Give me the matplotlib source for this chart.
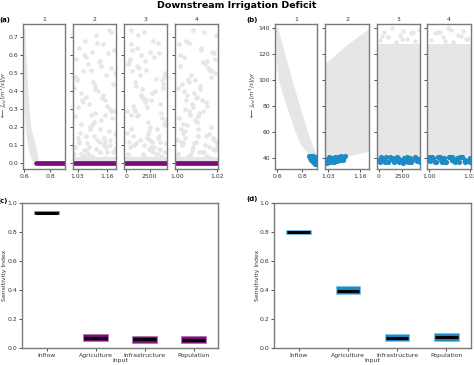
import matplotlib
matplotlib.use("Agg")
import matplotlib.pyplot as plt

# ===== style =====
W, H = 474, 365
GRAY = "#e6e6e6"
PURPLE = "#7d0b7d"
BLUE = "#1f8bc4"
SPINE = "#7a7a7a"
TXT = "#333333"
FS = 4.4

# ===== DATA =====
INPUTS = ["Inflow", "Agriculture", "Infrastructure", "Population"]

# (a) panel 1: envelope of the gray band (y -> x range)
A1_ENV_Y = [0.75, 0.60, 0.40, 0.30, 0.20, 0.10, 0.05, 0.00]
A1_ENV_LO = [0.596, 0.597, 0.598, 0.601, 0.607, 0.625, 0.640, 0.665]
A1_ENV_HI = [0.606, 0.612, 0.628, 0.637, 0.650, 0.685, 0.700, 0.712]
A1_OPT_X = [0.690, 0.740, 0.790, 0.840, 0.890, 0.930]

# (a) panels 2-4: sampled deficit values (shared y) against each input
A_Y = [0.42, 0.58, 0.31, 0.64, 0.22, 0.51, 0.68, 0.37, 0.55, 0.19,
       0.62, 0.45, 0.28, 0.71, 0.40, 0.57, 0.24, 0.66, 0.35, 0.49,
       0.61, 0.30, 0.73, 0.44, 0.16, 0.26, 0.47, 0.12, 0.39, 0.60,
       0.15, 0.33, 0.52, 0.21, 0.43, 0.13, 0.56, 0.36, 0.14, 0.27,
       0.18, 0.53, 0.25, 0.63, 0.09, 0.17, 0.34, 0.11, 0.27, 0.08,
       0.19, 0.12, 0.10, 0.29, 0.07, 0.23, 0.38, 0.48, 0.06, 0.74,
       0.05, 0.11, 0.04, 0.09, 0.15, 0.06, 0.03, 0.13, 0.08, 0.05,
       0.50, 0.41, 0.59, 0.32, 0.46, 0.54, 0.20, 0.67, 0.29, 0.35,
       0.04, 0.07, 0.10, 0.02, 0.06, 0.14, 0.03, 0.09, 0.05, 0.12]
A2_X = [1.015, 1.022, 1.031, 1.038, 1.046, 1.052, 1.061, 1.069, 1.075, 1.083,
        1.091, 1.098, 1.104, 1.112, 1.119, 1.127, 1.133, 1.141, 1.148, 1.156,
        1.163, 1.171, 1.178, 1.186, 1.192, 1.018, 1.027, 1.035, 1.043, 1.057,
        1.065, 1.079, 1.087, 1.095, 1.108, 1.116, 1.124, 1.137, 1.145, 1.152,
        1.167, 1.175, 1.182, 1.189, 1.020, 1.040, 1.055, 1.072, 1.090, 1.110,
        1.130, 1.150, 1.170, 1.188, 1.060, 1.100, 1.140, 1.025, 1.160, 1.168,
        1.014, 1.036, 1.058, 1.081, 1.103, 1.126, 1.149, 1.171, 1.193, 1.047,
        1.194, 1.105, 1.066, 1.158, 1.029, 1.134, 1.085, 1.117, 1.176, 1.050,
        1.093, 1.068, 1.144, 1.121, 1.184, 1.033, 1.011, 1.155, 1.077, 1.128]
A3_X = [3900, 350, 2200, 1100, 4100, 600, 2900, 1700, 150, 3300,
        2500, 900, 3700, 1300, 3100, 2000, 4300, 450, 2700, 1500,
        3500, 800, 1900, 4000, 2300, 1200, 3200, 250, 2800, 1600,
        700, 3600, 2100, 4200, 1000, 2600, 300, 1800, 3400, 550,
        2400, 1400, 3800, 650, 3000, 100, 2000, 4250, 1250, 3550,
        500, 2750, 1900, 950, 3650, 2350, 1550, 4050, 2850, 550,
        200, 1050, 1900, 2700, 3500, 4300, 600, 1500, 2400, 3300,
        4150, 1650, 2950, 750, 3850, 1150, 2550, 3450, 50, 2150,
        3750, 2650, 850, 1450, 4200, 2250, 3050, 400, 1800, 3600]
A4_X = [1.0005, 1.0190, 1.0080, 1.0120, 1.0030, 1.0165, 1.0045, 1.0100, 1.0140, 1.0020,
        1.0175, 1.0060, 1.0110, 1.0195, 1.0035, 1.0150, 1.0090, 1.0010, 1.0125, 1.0070,
        1.0185, 1.0040, 1.0135, 1.0025, 1.0160, 1.0105, 1.0055, 1.0200, 1.0085, 1.0015,
        1.0145, 1.0075, 1.0170, 1.0050, 1.0115, 1.0000, 1.0130, 1.0095, 1.0180, 1.0065,
        1.0038, 1.0155, 1.0008, 1.0118, 1.0198, 1.0028, 1.0142, 1.0082, 1.0062, 1.0178,
        1.0102, 1.0018, 1.0138, 1.0058, 1.0188, 1.0098, 1.0048, 1.0168, 1.0122, 1.0078,
        1.0004, 1.0027, 1.0052, 1.0079, 1.0106, 1.0133, 1.0158, 1.0183, 1.0201, 1.0069,
        1.0192, 1.0112, 1.0032, 1.0147, 1.0087, 1.0012, 1.0172, 1.0057, 1.0127, 1.0042,
        1.0152, 1.0072, 1.0022, 1.0197, 1.0107, 1.0037, 1.0132, 1.0162, 1.0002, 1.0092]
A_DENSE = [0.0, 0.035]

# (b) panel 1: diagonal gray band (y -> x range)
B1_ENV_Y = [141, 120, 100, 80, 60, 50, 44, 40]
B1_ENV_LO = [0.590, 0.590, 0.610, 0.675, 0.745, 0.792, 0.840, 0.870]
B1_ENV_HI = [0.603, 0.662, 0.720, 0.780, 0.844, 0.880, 0.905, 0.917]
B1_OPT_X = [0.850, 0.860, 0.872, 0.884, 0.896, 0.908, 0.915, 0.866, 0.880, 0.893,
            0.905, 0.913, 0.900, 0.888]
B1_OPT_Y = [41.5, 40.0, 42.0, 41.5, 40.5, 41.0, 39.0, 38.5, 39.0, 37.5,
            38.0, 36.5, 36.0, 36.8]

# (b) panel 2: wedge envelope (x -> y range)
B2_ENV_X = [1.0165, 1.06, 1.10, 1.16, 1.1966]
B2_ENV_LO = [36.5, 39.5, 41.5, 44.0, 45.5]
B2_ENV_HI = [113.0, 120.0, 126.5, 135.0, 140.0]
B2_OPT_X = [1.020, 1.025, 1.030, 1.035, 1.040, 1.046, 1.052, 1.058, 1.064, 1.070,
            1.076, 1.082, 1.088, 1.094, 1.100, 1.023, 1.033, 1.043, 1.055, 1.067,
            1.079, 1.091]
B2_OPT_Y = [38.0, 39.5, 37.5, 40.0, 38.5, 40.5, 39.0, 41.0, 39.5, 41.0,
            40.0, 41.5, 40.5, 41.0, 41.5, 36.5, 41.0, 36.8, 37.5, 38.0,
            38.5, 39.0]

# (b) panels 3-4: dense block plus sparse tops
B_DENSE = [35.5, 128.0]
B_TOP_Y = [131, 137, 133, 140, 129.5, 135, 138, 132, 136, 130, 139, 134, 131.5, 137.5]
B3_TOP_X = [150, 600, 1000, 1400, 1800, 2200, 2600, 3000, 3400, 3800, 4200, 350, 2400, 3600]
B4_TOP_X = [1.0010, 1.0040, 1.0065, 1.0090, 1.0115, 1.0140, 1.0165, 1.0190, 1.0025, 1.0075,
            1.0105, 1.0155, 1.0180, 1.0050]
B3_OPT_X = [-120, 100, 330, 560, 790, 1020, 1250, 1480, 1710, 1940, 2170, 2400, 2630,
            2860, 3090, 3320, 3550, 3780, 4010, 4240, 220, 680, 1140, 1600, 2060,
            2520, 2980, 3440, 3900, 4300]
B3_OPT_Y = [39.0, 37.5, 40.5, 38.0, 41.0, 37.0, 39.5, 40.0, 38.0, 41.0, 37.5, 39.0,
            40.5, 38.0, 37.0, 40.0, 39.0, 41.0, 38.0, 39.5, 40.8, 37.0, 41.0, 36.8,
            40.5, 36.5, 41.0, 37.0, 40.5, 37.5]
B4_OPT_X = [0.9992, 1.0005, 1.0018, 1.0031, 1.0044, 1.0057, 1.0070, 1.0083, 1.0096, 1.0109,
            1.0122, 1.0135, 1.0148, 1.0161, 1.0174, 1.0187, 1.0200, 1.0000, 1.0025, 1.0050,
            1.0075, 1.0100, 1.0125, 1.0150, 1.0175, 1.0198, 1.0012, 1.0063, 1.0113, 1.0163]
B4_OPT_Y = [39.5, 38.0, 40.5, 37.5, 41.0, 38.5, 40.0, 37.0, 41.0, 39.0, 38.0, 40.5,
            37.5, 41.0, 39.0, 38.0, 40.5, 41.0, 36.8, 41.2, 37.0, 40.8, 36.8, 41.0,
            37.2, 36.8, 40.8, 37.0, 41.0, 40.8]

# (c)/(d) sensitivity indices: lower quartile, median, upper quartile
C_LO = [0.922, 0.046, 0.037, 0.037]
C_MED = [0.933, 0.067, 0.062, 0.057]
C_HI = [0.945, 0.099, 0.085, 0.080]
D_LO = [0.786, 0.372, 0.051, 0.051]
D_MED = [0.800, 0.395, 0.071, 0.074]
D_HI = [0.814, 0.430, 0.099, 0.106]

TOP_XTICKS = [[0.6, 0.8], [1.03, 1.16], [0, 2500], [1.00, 1.02]]
TOP_XTLAB = [["0.6", "0.8"], ["1.03", "1.16"], ["0", "2500"], ["1.00", "1.02"]]
A_XLIM = [(0.59, 0.915), (1.01, 1.198), (-254, 4384), (0.9988, 1.0205)]
B_XLIM = [(0.584, 0.917), (1.0165, 1.1966), (-174, 4340), (0.9988, 1.0205)]


def rect(l, t, r, b):
    return [l / W, 1 - b / H, (r - l) / W, (b - t) / H]


def style(ax):
    for s in ax.spines.values():
        s.set_color(SPINE)
        s.set_linewidth(1.0)
    ax.tick_params(labelsize=FS, length=2, width=0.6, pad=1.5, colors=TXT)


def ftext(x, y, s, **kw):
    fig.text(x / W, 1 - y / H, s, color=TXT, **kw)


fig = plt.figure(figsize=(W / 100, H / 100), dpi=100)

ylab = r"$\longleftarrow\ J_{dd}\ [m^3/s]/yr$"

# ----- (a) -----
a_x = [(23, 65), (73, 116), (124, 167), (175, 218)]
a_axes = []
for i, (l, r) in enumerate(a_x):
    ax = fig.add_axes(rect(l, 24, r, 169))
    a_axes.append(ax)
    style(ax)
    ax.set_xlim(*A_XLIM[i])
    ax.set_ylim(-0.033, 0.774)
    ax.set_xticks(TOP_XTICKS[i], TOP_XTLAB[i])
    ax.set_yticks([0.0, 0.1, 0.2, 0.3, 0.4, 0.5, 0.6, 0.7])
    if i > 0:
        ax.tick_params(labelleft=False)
    ax.set_title(str(i + 1), fontsize=FS, pad=2.5, color=TXT)

a_axes[0].fill_betweenx(A1_ENV_Y, A1_ENV_LO, A1_ENV_HI, color=GRAY, lw=0)
a_axes[0].plot(A1_OPT_X, [0.0] * len(A1_OPT_X), color=PURPLE, lw=3.4,
               solid_capstyle="round")
for ax, xs in zip(a_axes[1:], [A2_X, A3_X, A4_X]):
    ax.axhspan(A_DENSE[0], A_DENSE[1], color=GRAY, lw=0)
    ax.scatter(xs, A_Y, s=11, color=GRAY, lw=0)
    lo, hi = ax.get_xlim()
    ax.plot([lo, hi], [0.0, 0.0], color=PURPLE, lw=3.4, solid_capstyle="round")
    ax.set_xlim(lo, hi)

ftext(4, 95, ylab, rotation=90, ha="center", va="center", fontsize=FS - 0.3)

# ----- (b) -----
b_x = [(275, 317), (325, 369), (377, 420), (427, 471)]
b_axes = []
for i, (l, r) in enumerate(b_x):
    ax = fig.add_axes(rect(l, 24, r, 169))
    b_axes.append(ax)
    style(ax)
    ax.set_xlim(*B_XLIM[i])
    ax.set_ylim(31.8, 143.3)
    ax.set_xticks(TOP_XTICKS[i], TOP_XTLAB[i])
    ax.set_yticks([40, 60, 80, 100, 120, 140])
    if i > 0:
        ax.tick_params(labelleft=False)
    ax.set_title(str(i + 1), fontsize=FS, pad=2.5, color=TXT)

b_axes[0].fill_betweenx(B1_ENV_Y, B1_ENV_LO, B1_ENV_HI, color=GRAY, lw=0)
b_axes[0].scatter(B1_OPT_X, B1_OPT_Y, s=14, color=BLUE, lw=0, zorder=3)
b_axes[1].fill_between(B2_ENV_X, B2_ENV_LO, B2_ENV_HI, color=GRAY, lw=0)
b_axes[1].scatter(B2_OPT_X, B2_OPT_Y, s=14, color=BLUE, lw=0, zorder=3)
for ax, tx, ox, oy in zip(b_axes[2:], [B3_TOP_X, B4_TOP_X],
                          [B3_OPT_X, B4_OPT_X], [B3_OPT_Y, B4_OPT_Y]):
    ax.axhspan(B_DENSE[0], B_DENSE[1], color=GRAY, lw=0)
    ax.scatter(tx, B_TOP_Y, s=10, color=GRAY, lw=0)
    ax.scatter(ox, oy, s=14, color=BLUE, lw=0, zorder=3)

ftext(253, 95, ylab, rotation=90, ha="center", va="center", fontsize=FS - 0.3)

# ----- (c) / (d) -----
pos = list(range(len(INPUTS)))
for (l, r), lo, med, hi, col, edge in [
        ((22, 218), C_LO, C_MED, C_HI, PURPLE, "#b070b0"),
        ((274, 471), D_LO, D_MED, D_HI, BLUE, "#7cc0e4")]:
    ax = fig.add_axes(rect(l, 203, r, 348))
    style(ax)
    heights = [h - b for h, b in zip(hi, lo)]
    ax.bar(pos, heights, bottom=lo, width=0.5, color=col, edgecolor=edge, lw=0.5)
    ax.hlines(med, [p - 0.23 for p in pos], [p + 0.23 for p in pos],
              color="black", lw=2.2)
    ax.set_xlim(-0.5, 3.5)
    ax.set_ylim(0, 1.0)
    ax.set_xticks(pos, INPUTS)
    ax.set_yticks([0.0, 0.2, 0.4, 0.6, 0.8, 1.0])
    ftext((l + r) / 2, 360.5, "Input", ha="center", va="center", fontsize=FS)
    ftext(l - 17, 275, "Sensitivity Index", rotation=90, ha="center",
          va="center", fontsize=FS)

# ----- titles and panel letters -----
fig.text(0.5, 1 - 5 / H, "Downstream Irrigation Deficit", ha="center",
         va="center", fontsize=6.8, fontweight="bold")
for txt, x, y in [("(a)", -1, 20), ("(b)", 246, 20), ("(c)", -3, 201), ("(d)", 246, 199)]:
    fig.text(x / W, 1 - y / H, txt, ha="left", va="center", fontsize=5,
             fontweight="bold")

fig.savefig("out.png", dpi=100)
